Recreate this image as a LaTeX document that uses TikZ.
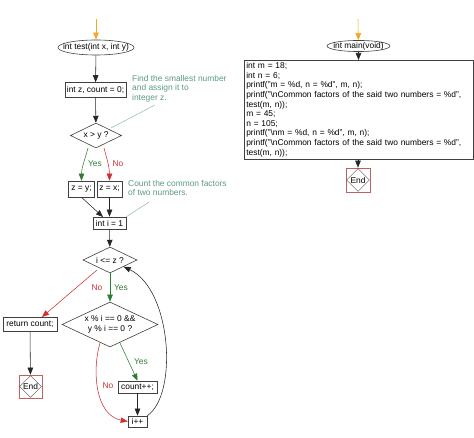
\documentclass[tikz,border=0pt]{standalone}
\usepackage{fontspec}
\setmainfont{Liberation Sans}
\usetikzlibrary{shapes.geometric,arrows.meta}
\definecolor{cgreen}{HTML}{2E7D32}
\definecolor{cred}{HTML}{D03030}
\definecolor{ccom}{HTML}{5A9A80}
\definecolor{corange}{HTML}{F5A623}
\definecolor{cend}{HTML}{C06060}
\newcommand{\zb}[1]{\makebox[0pt]{#1}}
\tikzset{
  every node/.style={font=\fontsize{8.4}{9.6}\selectfont, inner sep=0pt},
  box/.style={draw=black!75, line width=0.6pt, rectangle, minimum height=13pt},
  term/.style={draw=black!75, line width=0.6pt, ellipse},
  dec/.style={draw=black!75, line width=0.6pt, diamond, inner sep=0pt},
  endsq/.style={draw=cend, line width=0.6pt, minimum size=23pt},
  flow/.style={-{Triangle[length=7pt,width=5.5pt]}, line width=0.55pt, black!85},
  yes/.style={flow, cgreen},
  no/.style={flow, cred},
  com/.style={text=ccom, align=left, anchor=north west},
  comline/.style={draw=ccom!80, line width=0.4pt},
}
\begin{document}
\begin{tikzpicture}[x=1pt,y=-1pt]
\useasboundingbox (0,0) rectangle (474,438);
% ---------- left function ----------
\coordinate (s1) at (96,19);
\node[term, minimum width=76pt, minimum height=15pt] (t1) at (96,47.5) {\zb{int test(int x, int y)}};
\node[box, minimum width=61pt, minimum height=15pt] (b1) at (95.5,90) {\zb{int z, count = 0;}};
\node[dec, minimum width=51pt, minimum height=25pt] (d1) at (96,135.5) {\zb{x > y ?}};
\node[box, minimum width=26pt, minimum height=16pt] (zy) at (81.5,189) {\zb{z = y;}};
\node[box, minimum width=25pt, minimum height=16pt] (zx) at (109.5,189) {\zb{z = x;}};
\node[box, minimum width=33pt, minimum height=12pt] (ii) at (109.5,223) {\zb{int i = 1}};
\node[dec, minimum width=54pt, minimum height=26pt] (d2) at (110,260) {\zb{i <= z ?}};
\node[dec, minimum width=96pt, minimum height=45pt] (d3) at (110,324.5) {};
\node[align=center] (d3t) at (d3) {x \% i == 0 \&\&\\y \% i == 0 ?};
\node[box, minimum width=54pt, minimum height=14pt] (rc) at (30,324) {\zb{return count;}};
\node[endsq] (e1) at (30.5,386.5) {};
\node[draw=black!70, line width=0.4pt, diamond, minimum size=22pt] (e1d) at (e1) {};
\node (e1t) at (e1) {End};
\node[box, minimum width=39pt, minimum height=12pt] (cp) at (137.5,387) {\zb{count++;}};
\node[box, minimum width=19pt, minimum height=11pt] (ip) at (137.5,421.5) {\zb{i++}};
\coordinate (d1y) at (88,148);
\coordinate (d1n) at (104,148);
\coordinate (iin) at (103,217);
\coordinate (d2n) at (97,270);
\coordinate (rcn) at (42,317);
\coordinate (d3y) at (120,343);
\coordinate (d3n) at (100,343);

\draw[flow, corange] (s1) -- (t1);
\draw[flow] (t1) -- (b1);
\draw[flow] (b1) -- (d1);
\draw[yes] (d1y) to[out=-105,in=90] (zy.north);
\draw[no] (d1n) to[out=-75,in=90] (zx.north);
\node[text=cgreen] (ly1) at (95,164) {Yes};
\node[text=cred] (ln1) at (118,164) {No};
\draw[flow] (zy.south) -- (iin);
\draw[flow] (zx.south) -- (ii.north);
\draw[flow] (ii) -- (d2);
\draw[no] (d2n) -- (rcn);
\draw[yes] (d2) -- (d3);
\node[text=cred] (ln2) at (97,288) {No};
\node[text=cgreen] (ly2) at (121,288) {Yes};
\draw[flow] (rc) -- (e1);
\draw[yes] (d3y) -- (cp.north);
\node[text=cgreen] (ly3) at (141,362) {Yes};
\draw[no] (d3n) .. controls (92,370) and (95,415) .. (ip.west);
\node[text=cred] (ln3) at (108,386) {No};
\draw[flow] (cp) -- (ip);
\draw[flow] (ip.north east) .. controls (178,395) and (172,290) .. (d2.south east);

% comments
\node[com] (c1) at (132,75) {Find the smallest number\\and assign it to\\integer z.};
\node[com] (c2) at (128,180) {Count the common factors\\of two numbers.};
\coordinate (k1a) at (111,128);
\coordinate (k1b) at (155,105);
\coordinate (k2a) at (126,217);
\coordinate (k2b) at (149,202);
\draw[comline] (k1a) -- (k1b);
\draw[comline] (k2a) -- (k2b);

% ---------- main ----------
\coordinate (s2) at (358,19);
\node[term, minimum width=63pt, minimum height=11pt] (t2) at (358.5,46) {\zb{int main(void)}};
\node[box, anchor=north west, minimum width=229pt, minimum height=99pt, align=left, text width=225pt, inner xsep=2pt, inner ysep=2pt] (mb) at (244,60) {int m = 18;\\int n = 6;\\printf("m = \%d, n = \%d", m, n);\\printf("\textbackslash nCommon factors of the said two numbers = \%d",\\test(m, n));\\m = 45;\\n = 105;\\printf("\textbackslash nm = \%d, n = \%d", m, n);\\printf("\textbackslash nCommon factors of the said two numbers = \%d",\\test(m, n));};
\node[endsq, minimum size=24pt] (e2) at (358,180) {};
\node[draw=black!70, line width=0.4pt, diamond, minimum size=23pt] (e2d) at (e2) {};
\node (e2t) at (e2) {End};
\draw[flow, corange] (s2) -- (t2);
\draw[flow] (t2) -- (t2 |- mb.north);
\draw[flow] (e2 |- mb.south) -- (e2);
\end{tikzpicture}
\end{document}
